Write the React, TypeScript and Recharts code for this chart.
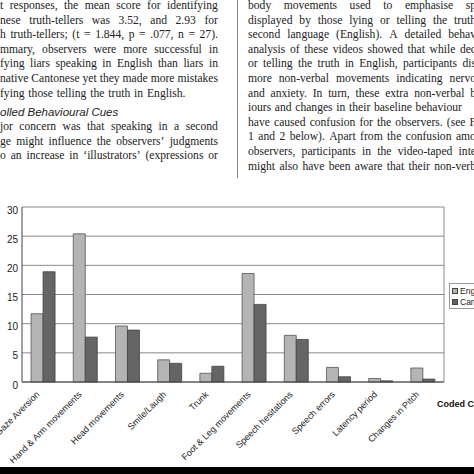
import { BarChart, Bar, XAxis, YAxis, CartesianGrid, Legend, Label } from 'recharts';

const cues = [
  'Gaze Aversion',
  'Hand & Arm movements',
  'Head movements',
  'Smile/Laugh',
  'Trunk',
  'Foot & Leg movements',
  'Speech hesitations',
  'Speech errors',
  'Latency period',
  'Changes in Pitch',
];
const english = [11.7, 25.4, 9.6, 3.8, 1.5, 18.6, 8.0, 2.5, 0.6, 2.4];
const cantonese = [18.9, 7.7, 8.9, 3.2, 2.7, 13.3, 7.3, 0.9, 0.2, 0.5];
const yTicks = [0, 5, 10, 15, 20, 25, 30];

const data = cues.map((cue, i) => ({ cue, english: english[i], cantonese: cantonese[i] }));

// page text above the figure (cropped columns)
const leftTop = [
  't responses, the mean score for identifying',
  'nese truth-tellers was 3.52, and 2.93 for',
  'h truth-tellers; (t = 1.844, p = .077, n = 27).',
  'mmary, observers were more successful in',
  'fying liars speaking in English than liars in',
  'native Cantonese yet they made more mistakes',
];
const leftLast = 'fying those telling the truth in English.';
const heading = 'olled Behavioural Cues';
const leftBottom = [
  'jor concern was that speaking in a second',
  'ge might influence the observers\u2019 judgments',
  'o an increase in \u2018illustrators\u2019 (expressions or',
];
const rightLines = [
  'body movements used to emphasise sp',
  'displayed by those lying or telling the truth',
  'second language (English). A detailed behav',
  'analysis of these videos showed that while dec',
  'or telling the truth in English, participants dis',
  'more non-verbal movements indicating nervo',
  'and anxiety. In turn, these extra non-verbal b',
  'iours and changes in their baseline behaviour',
  'have caused confusion for the observers. (see F',
  '1 and 2 below). Apart from the confusion amo',
  'observers, participants in the video-taped inte',
  'might also have been aware that their non-verb',
];

const serif = '"Liberation Serif", "DejaVu Serif", serif';
const sans = '"Liberation Sans", Arial, sans-serif';
const bodySize = 11.6;

const JustLine = ({ text, left, top, width }: { text: string; left: number; top: number; width: number }) => (
  <div
    style={{
      position: 'absolute',
      left,
      top,
      width,
      display: 'flex',
      justifyContent: 'space-between',
      whiteSpace: 'nowrap',
      fontFamily: serif,
      fontSize: bodySize,
      lineHeight: '14px',
      color: '#222',
    }}
  >
    {text.split(' ').map((w, i) => (
      <span key={i}>{w}</span>
    ))}
  </div>
);

const lineTop = (center: number) => center - 7;

const CueTick = (props: any) => {
  const { x, y, payload } = props;
  return (
    <text
      x={x - 3}
      y={y + 13}
      transform={`rotate(-45, ${x - 3}, ${y + 13})`}
      textAnchor="end"
      fontSize={9}
      fill="#222"
      fontFamily={sans}
    >
      {payload.value}
    </text>
  );
};

const LegendBox = (props: any) => {
  const items = [...(props.payload || [])].sort((a: any, b: any) =>
    a.value === 'English' ? -1 : b.value === 'English' ? 1 : 0
  );
  return (
    <div
      style={{
        border: '1px solid #999',
        padding: '1px 2px',
        width: 60,
        fontFamily: sans,
        fontSize: 8.5,
        color: '#222',
        background: '#fff',
      }}
    >
      {items.map((p: any) => (
        <div key={p.value} style={{ display: 'flex', alignItems: 'center', height: 11 }}>
          <span
            style={{
              display: 'inline-block',
              width: 4,
              height: 4,
              border: '1px solid #444',
              background: p.color,
              marginRight: 2,
            }}
          />
          {p.value}
        </div>
      ))}
    </div>
  );
};

export default function App() {
  return (
    <div
      style={{
        position: 'absolute',
        left: 0,
        top: 0,
        width: 474,
        height: 474,
        overflow: 'hidden',
        background: '#fff',
        fontFamily: sans,
      }}
    >
      {leftTop.map((t, i) => (
        <JustLine key={'l' + i} text={t} left={0} top={lineTop(6 + i * 14.6)} width={218} />
      ))}
      <div
        style={{
          position: 'absolute',
          left: 0,
          top: lineTop(6 + 6 * 14.6),
          whiteSpace: 'nowrap',
          fontFamily: serif,
          fontSize: bodySize,
          lineHeight: '14px',
          wordSpacing: 1,
          color: '#222',
        }}
      >
        {leftLast}
      </div>
      <div
        style={{
          position: 'absolute',
          left: 0,
          top: 105,
          whiteSpace: 'nowrap',
          fontFamily: sans,
          fontStyle: 'italic',
          fontSize: 11.5,
          lineHeight: '14px',
          color: '#222',
        }}
      >
        {heading}
      </div>
      {leftBottom.map((t, i) => (
        <JustLine key={'b' + i} text={t} left={0} top={lineTop(127 + i * 14.6)} width={218} />
      ))}
      <div style={{ position: 'absolute', left: 237, top: 0, width: 1, height: 178, background: '#888' }} />
      {rightLines.map((t, i) => (
        <JustLine key={'r' + i} text={t} left={248} top={lineTop(6 + i * 14.6)} width={i === 7 ? 214 : 228} />
      ))}

      <div style={{ position: 'absolute', left: 0, top: 0 }}>
        <BarChart
          width={474}
          height={474}
          data={data}
          margin={{ top: 207, right: 30, bottom: 7, left: 0 }}
          barCategoryGap="21.5%"
          barGap={0}
        >
          <CartesianGrid
            stroke="#8a8a8a"
            horizontal
            verticalCoordinatesGenerator={({ offset }: any) => [offset.left + offset.width]}
          />
          <XAxis
            dataKey="cue"
            interval={0}
            height={85}
            tickLine={false}
            tickSize={0}
            tickMargin={0}
            axisLine={{ stroke: '#444' }}
            tick={<CueTick />}
          >
            <Label
              content={({ viewBox }: any) => (
                <text
                  x={viewBox.x + viewBox.width - 7}
                  y={viewBox.y + 25}
                  fontSize={9}
                  fontWeight="bold"
                  fill="#111"
                  fontFamily={sans}
                >
                  Coded Clues
                </text>
              )}
            />
          </XAxis>
          <YAxis
            domain={[0, 30]}
            ticks={yTicks}
            width={22}
            tickLine={false}
            tickSize={2}
            tickMargin={2}
            axisLine={{ stroke: '#444' }}
            tick={{ fontSize: 10, fill: '#222', dy: 3 }}
          />
          <Legend
            layout="vertical"
            align="center"
            verticalAlign="middle"
            wrapperStyle={{ left: 449, top: 283, width: 70 }}
            content={<LegendBox />}
          />
          <Bar dataKey="english" name="English" fill="#b4b4b4" stroke="#555" strokeWidth={0.8} isAnimationActive={false} />
          <Bar dataKey="cantonese" name="Cantonese" fill="#656565" stroke="#444" strokeWidth={0.8} isAnimationActive={false} />
        </BarChart>
      </div>
      <div style={{ position: 'absolute', left: 0, top: 467, width: 474, height: 7, background: '#000' }} />
    </div>
  );
}
